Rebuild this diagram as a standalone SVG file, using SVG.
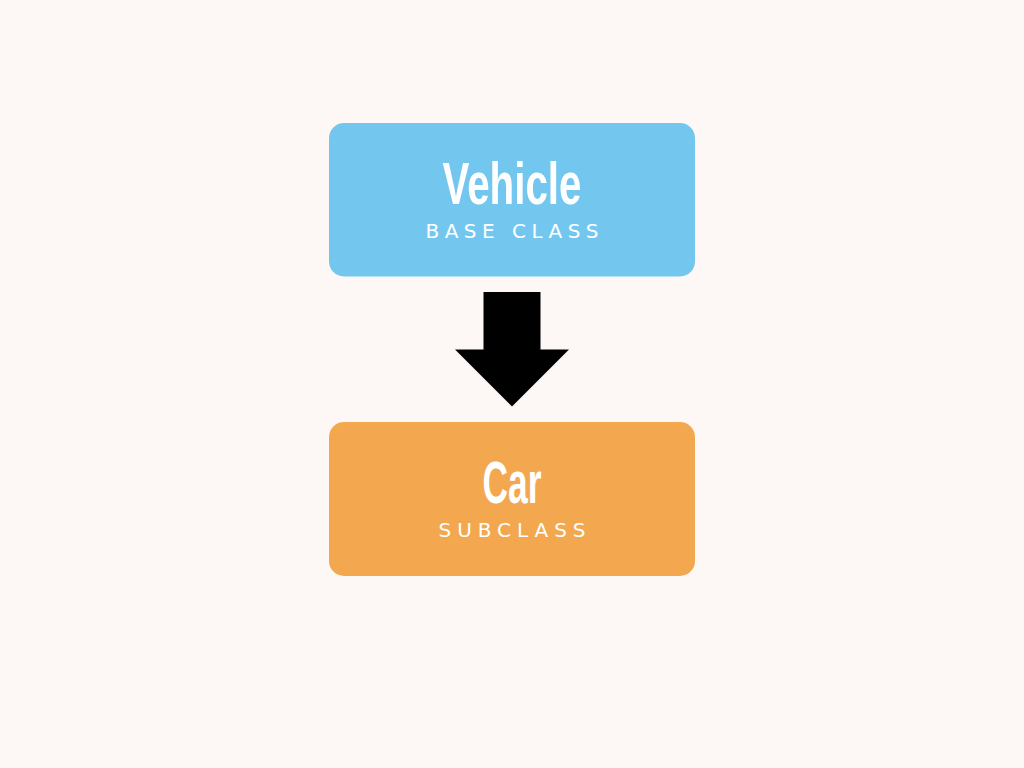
<svg xmlns="http://www.w3.org/2000/svg" width="1024" height="768" viewBox="0 0 1024 768">
<style>
.title{font-family:"Liberation Sans",Arial,sans-serif;font-weight:bold;font-size:60px;fill:#ffffff;text-anchor:middle}
.sub{font-family:"DejaVu Sans","Liberation Sans",sans-serif;font-size:20px;fill:#ffffff;text-anchor:middle}
</style>
<rect width="1024" height="768" fill="#fdf8f5"/>
<g id="connectors">
<polygon points="483.5,292 540.5,292 540.5,349.5 569,349.5 512,406.5 455,349.5 483.5,349.5" fill="#000000"/>
</g>
<g id="vehicle">
<rect x="329" y="123" width="366" height="153.5" rx="15" fill="#73c7ef"/>
<text class="title" x="512" y="204" textLength="139" lengthAdjust="spacingAndGlyphs">Vehicle</text>
<text class="sub" x="512" y="238" textLength="173" lengthAdjust="spacing">BASE CLASS</text>
</g>
<g id="car">
<rect x="329" y="422" width="366" height="154" rx="15" fill="#f3a84f"/>
<text class="title" x="512" y="502.5" textLength="59" lengthAdjust="spacingAndGlyphs">Car</text>
<text class="sub" x="512" y="537" textLength="147" lengthAdjust="spacing">SUBCLASS</text>
</g>
</svg>
